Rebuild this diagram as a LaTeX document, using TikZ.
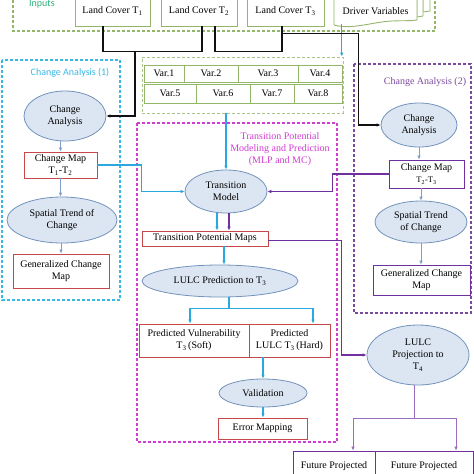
\documentclass[tikz,border=0pt]{standalone}
\usepackage{fontspec}
\setmainfont{Liberation Serif}
\newfontfamily\calib{Carlito}
\usepackage{xcolor}
\usepackage{tikz}
\usetikzlibrary{arrows.meta,shapes.geometric,calc}
\definecolor{ink}{HTML}{111111}
\definecolor{ellfill}{HTML}{DCE6F2}
\definecolor{ellline}{HTML}{7393BC}
\definecolor{steel}{HTML}{7F9FC8}
\definecolor{boxred}{HTML}{C8474A}
\definecolor{purp}{HTML}{7030A0}
\definecolor{dpurp}{HTML}{7A4A9E}
\definecolor{grn}{HTML}{94B66A}
\definecolor{inputgrn}{HTML}{2DB37A}
\definecolor{cyline}{HTML}{2BA8DE}
\definecolor{cyframe}{HTML}{38B8E6}
\definecolor{mag}{HTML}{D23CD2}

\begin{document}
\begin{tikzpicture}[x=1pt,y=-1pt,font=\fontsize{10}{12}\selectfont,>={Latex[length=4pt,width=3.6pt]}]
\tikzset{ell/.style={ellipse,draw=ellline,fill=ellfill,line width=0.8pt,align=center,inner sep=0pt}, redbox/.style={draw=boxred,line width=0.9pt,fill=white,align=center,inner sep=1pt}, purbox/.style={draw=purp,line width=0.9pt,fill=white,align=center,inner sep=1pt}, grnbox/.style={draw=grn,line width=0.9pt,fill=white,align=center,inner sep=1pt}, dashframe/.style={dash pattern=on 3pt off 2pt,line width=1.1pt}, blk/.style={draw=ink,line width=1.3pt}, cyn/.style={draw=cyline,line width=1.1pt}, prp/.style={draw=purp,line width=1.1pt}, stl/.style={->,draw=steel,line width=0.8pt}}
\useasboundingbox (0,0) rectangle (474,474);
\clip (0,0) rectangle (474,474);
\fill[white] (0,0) rectangle (474,474);
% inputs
\draw[dashframe,draw=grn] (13,-10) rectangle (435,31);
\node[text=inputgrn,font=\calib\fontsize{10}{12}\selectfont] (inp) at (42,4) {Inputs};
\node[grnbox,minimum width=75,minimum height=30] (lc1) at (112.5,11) {Land Cover T\textsubscript{1}};
\node[grnbox,minimum width=76,minimum height=30] (lc2) at (199,11) {Land Cover T\textsubscript{2}};
\node[grnbox,minimum width=77,minimum height=30] (lc3) at (285.5,11) {Land Cover T\textsubscript{3}};
\draw[grnbox] (423,12) -- (430,11) -- (430,-4) -- (423,-4) -- cycle;
\draw[grnbox] (417,17) -- (423,16) -- (423,-4) -- (417,-4) -- cycle;
\draw[grnbox] (334,-4) -- (334,25) .. controls (352,30) and (372,22) .. (392,21) .. controls (404,20.5) and (411,21) .. (417,20) -- (417,-4) -- cycle;
\node[minimum width=83,minimum height=26,inner sep=0pt] (drv) at (375.5,11) {Driver Variables};
% variables
\node[grnbox,draw=grn!80,dashframe,line width=0.9pt,minimum width=201,minimum height=56] (vars) at (242.5,85) {};
\foreach \n/\xa/\xb/\ya/\yb in {1/144/184/65/82,2/184/238/65/82,3/238/298/65/82,4/298/342/65/82,5/144/196/84/103,6/196/250/84/103,7/250/294/84/103,8/294/342/84/103} {
  \node[grnbox,minimum width={(\xb-\xa)*1pt},minimum height={(\yb-\ya)*1pt}] (v\n) at ({(\xa+\xb)/2},{(\ya+\yb)/2}) {Var.\n};
}
\draw[cyn,->] ([xshift=8pt]drv.south west) -- ([xshift=8pt]drv.south west |- vars.north);
% change analysis (1)
\draw[dashframe,draw=cyframe] (2,60) rectangle (120,300);
\node[text=cyframe,font=\calib\fontsize{10}{12}\selectfont] (t1) at (70,73) {Change Analysis (1)};
\node[ell,minimum width=82,minimum height=50] (ca1) at (65,116) {Change\\Analysis};
\node[redbox,minimum width=73,minimum height=26] (cm1) at (60.5,165) {Change Map\\T\textsubscript{1}-T\textsubscript{2}};
\node[ell,minimum width=110,minimum height=46] (st1) at (62,220) {Spatial Trend of\\Change};
\node[redbox,minimum width=96,minimum height=34] (gm1) at (61,271) {Generalized Change\\Map};
\draw[stl] (cm1.north |- ca1.south) -- (cm1.north);
\draw[stl] (cm1.south) -- (cm1.south |- st1.north);
\draw[stl] (st1.south -| gm1.north) -- (gm1.north);
\draw[blk] ([xshift=-9.5pt]lc1.south) -- ++(0,25) -| ([xshift=3pt]lc2.south);
\draw[blk,->] ([xshift=22.5pt]lc1.south) ++(0,25) |- (ca1.east);
% change analysis (2)
\draw[dashframe,draw=dpurp] (354,64) rectangle (471,313);
\node[text=dpurp] (t2) at (425,82) {Change Analysis (2)};
\node[ell,minimum width=76,minimum height=44] (ca2) at (419,125) {Change\\Analysis};
\node[purbox,minimum width=75,minimum height=28] (cm2) at (426.5,174) {Change Map\\{\fontsize{8.5}{10}\selectfont T\textsubscript{2}-T\textsubscript{3}}};
\node[ell,minimum width=92,minimum height=42] (st2) at (421,222) {Spatial Trend\\of Change};
\node[purbox,minimum width=97,minimum height=30] (gm2) at (421.5,280) {Generalized Change\\Map};
\draw[stl] (ca2.south) -- (ca2.south |- cm2.north);
\draw[stl] (st2.north |- cm2.south) -- (st2.north);
\draw[stl] (st2.south) -- (st2.south |- gm2.north);
\draw[blk] ([xshift=16pt]lc2.south) -- ++(0,25) -| ([xshift=-3.5pt]lc3.south);
\draw[blk,->] ([xshift=-3.5pt]lc3.south) ++(0,7) -| ([xshift=-22pt]ca2.west) -- (ca2.west);
% transition potential modeling
\draw[dashframe,draw=mag] (137,123) rectangle (337,442);
\node[text=mag,align=center] (t3) at (280,149) {Transition Potential\\Modeling and Prediction\\(MLP and MC)};
\node[ell,minimum width=82,minimum height=43] (tm) at (226,191.5) {Transition\\Model};
\node[redbox,minimum width=126,minimum height=15] (tpm) at (205,238.5) {Transition Potential Maps};
\node[ell,minimum width=156,minimum height=32] (lp3) at (220,281) {LULC Prediction to T\textsubscript{3}};
\node[redbox,minimum width=110,minimum height=33] (pv) at (194,340.5) {Predicted Vulnerability\\T\textsubscript{3}\,(Soft)};
\node[redbox,minimum width=81,minimum height=33] (pl) at (289.5,340.5) {Predicted\\LULC T\textsubscript{3}\,(Hard)};
\node[ell,minimum width=88,minimum height=28] (val) at (263,393) {Validation};
\node[redbox,minimum width=89,minimum height=21] (em) at (262.5,428.5) {Error Mapping};
\draw[cyn,->] (vars.south -| tm.north) -- (tm.north);
\draw[cyn,->] (cm1.east) -| ([xshift=-43pt]tm.west) -- (tm.west);
\draw[prp,->] (cm2.west) -| ([xshift=65pt]tm.east) -- (tm.east);
\draw[cyn,->] ([xshift=-9pt]tm.south) -- ([xshift=-9pt]tm.south |- tpm.north);
\draw[prp,->] ([xshift=3pt]tm.south) -- ([xshift=3pt]tm.south |- tpm.north);
\draw[cyn,->] ([xshift=19pt]tpm.south) -- ([xshift=19pt]tpm.south |- lp3.north);
\draw[cyn] ([xshift=9pt]lp3.south) -- ++(0,11) coordinate (sp);
\draw[cyn] ([xshift=-4pt]sp -| pv.north) -- ([xshift=23.5pt]sp -| pl.north);
\draw[cyn,->] ([xshift=-4pt]sp -| pv.north) -- ([xshift=-4pt]pv.north);
\draw[cyn,->] ([xshift=23.5pt]sp -| pl.north) -- ([xshift=23.5pt]pl.north);
\draw[cyn,->] (val.north |- pl.south) -- (val.north);
\draw[cyn,->] (val.south) -- (val.south |- em.north);
% projection
\node[ell,minimum width=102,minimum height=60] (lp4) at (418,355) {LULC\\Projection to\\T\textsubscript{4}};
\node[purbox,minimum width=82,minimum height=30] (fp1) at (334,466) {Future Projected};
\node[purbox,minimum width=98,minimum height=30] (fp2) at (424,466) {Future Projected};
\draw[prp,->] ([yshift=-2pt]tpm.east) -| ([xshift=-25pt]lp4.west) -- (lp4.west);
\draw[draw=purp!70,line width=0.9pt] ([xshift=-4pt]lp4.south) -- ++(0,33) coordinate (sq);
\draw[draw=purp!70,line width=0.9pt] ([xshift=19pt]sq -| fp1.north) -- ([xshift=32pt]sq -| fp2.north);
\draw[draw=purp!70,line width=0.9pt,->] ([xshift=19pt]sq -| fp1.north) -- ([xshift=19pt]fp1.north);
\draw[draw=purp!70,line width=0.9pt,->] ([xshift=32pt]sq -| fp2.north) -- ([xshift=32pt]fp2.north);
\end{tikzpicture}
\end{document}
